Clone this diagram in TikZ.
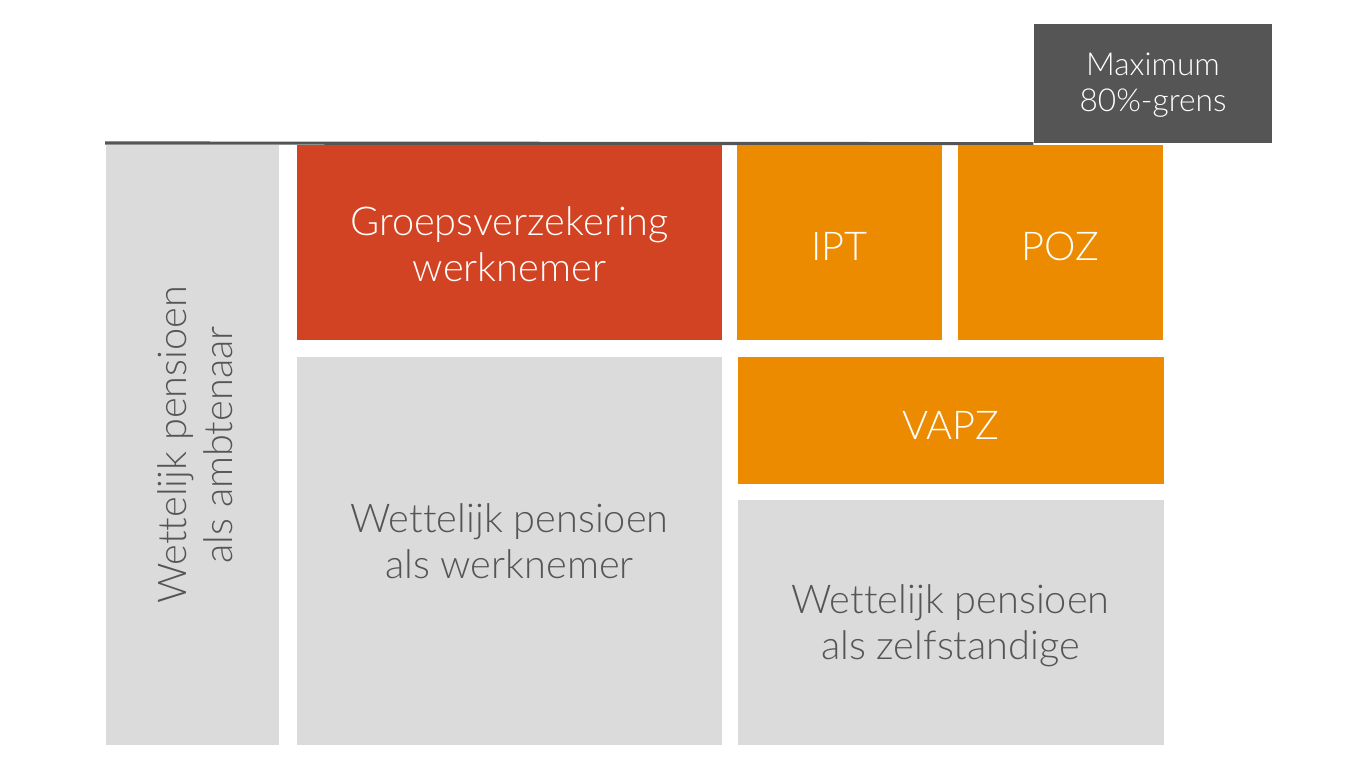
\documentclass[tikz,border=0pt]{standalone}
\usepackage{fontspec}
\setmainfont{Lato Light}[Ligatures=NoCommon]
\usetikzlibrary{positioning}

\definecolor{greyfill}{HTML}{DBDBDB}
\definecolor{greytext}{HTML}{555555}
\definecolor{darkbox}{HTML}{555555}
\definecolor{redfill}{HTML}{D24323}
\definecolor{orangefill}{HTML}{EC8B00}

% move text up/down without changing its box
\newcommand{\nudge}[2]{\raisebox{#1}[\height][\depth]{#2}}
\newcommand{\twolines}[2]{\begin{tabular}{@{}c@{}}#1\\#2\end{tabular}}

\tikzset{
  block/.style={rectangle, inner sep=0pt, align=center, font=\fontsize{11.3}{13.2}\selectfont},
  greyblock/.style={block, fill=greyfill, text=greytext},
  redblock/.style={block, fill=redfill, text=white},
  orangeblock/.style={block, fill=orangefill, text=white},
  maxblock/.style={block, fill=darkbox, text=white, font=\fontsize{9.0}{10.3}\selectfont},
  topline/.style={draw=darkbox, line width=0.9pt},
}

\begin{document}
\begin{tikzpicture}[y=-1cm]
  \useasboundingbox (0,0) rectangle (13.66,7.68);
  % ceiling
  \node[maxblock, minimum width=2.38cm, minimum height=1.19cm] (maxgrens) at (11.53,0.835) {\nudge{-0.03cm}{\twolines{Maximum}{80\%-grens}}};
  \coordinate (lineleft) at (1.05,1.43);
  \draw[topline] (lineleft) -- (maxgrens.south west);
  % pillars
  \node[greyblock, minimum width=1.73cm, minimum height=6.00cm] (ambt) at (1.925,4.45) {\rotatebox{90}{\nudge{-0.08cm}{\twolines{Wettelijk pensioen}{als ambtenaar}}}};
  \node[redblock, minimum width=4.25cm, minimum height=1.95cm] (groep) at (5.095,2.425) {\nudge{-0.07cm}{\twolines{Groepsverzekering}{werknemer}}};
  \node[greyblock, minimum width=4.25cm, minimum height=3.88cm] (werkn) at (5.095,5.51) {\nudge{0.05cm}{\twolines{Wettelijk pensioen}{als werknemer}}};
  \node[orangeblock, minimum width=2.05cm, minimum height=1.95cm] (ipt) at (8.395,2.425) {\nudge{-0.04cm}{IPT}};
  \node[orangeblock, minimum width=2.05cm, minimum height=1.95cm] (poz) at (10.605,2.425) {\nudge{-0.04cm}{POZ}};
  \node[orangeblock, minimum width=4.26cm, minimum height=1.27cm] (vapz) at (9.505,4.205) {\nudge{-0.05cm}{VAPZ}};
  \node[greyblock, minimum width=4.26cm, minimum height=2.45cm] (zelf) at (9.505,6.225) {\nudge{-0.05cm}{\twolines{Wettelijk pensioen}{als zelfstandige}}};
\end{tikzpicture}
\end{document}
